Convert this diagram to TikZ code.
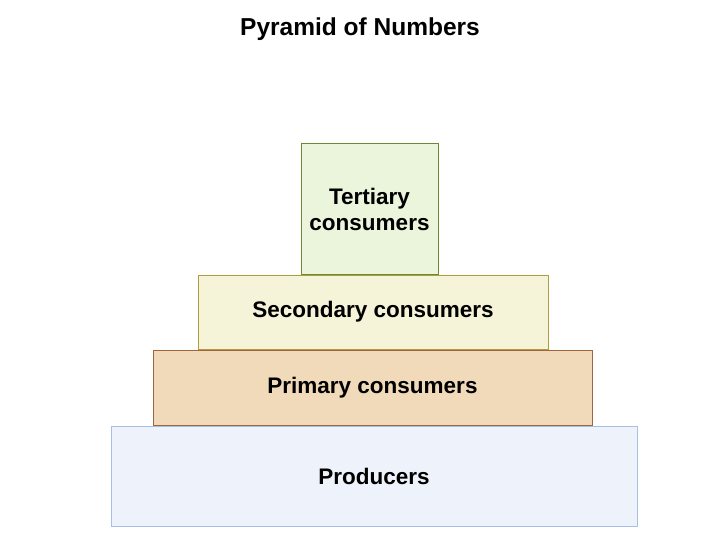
\documentclass[tikz,border=0pt]{standalone}
\usepackage{fontspec}
\setmainfont{Liberation Sans}
\usetikzlibrary{positioning}
\definecolor{cterfill}{RGB}{235,245,219}
\definecolor{cterline}{RGB}{108,138,50}
\definecolor{csecfill}{RGB}{246,244,216}
\definecolor{csecline}{RGB}{176,156,62}
\definecolor{cprifill}{RGB}{240,218,186}
\definecolor{cpriline}{RGB}{160,100,62}
\definecolor{cprofill}{RGB}{238,243,251}
\definecolor{cproline}{RGB}{168,190,230}
\begin{document}
\begin{tikzpicture}[
    x=1pt, y=1pt,
    level/.style n args={2}{
      rectangle, draw=#1, line width=1pt, fill=#2,
      inner sep=0pt, outer sep=0pt, text centered, align=center,
      font=\fontsize{22.5}{26}\selectfont\bfseries
    }
  ]
  \useasboundingbox (0,0) rectangle (720,542);

  % ---- Title ----
  \node[font=\fontsize{24.5}{28}\selectfont\bfseries] (title) at (360,513) {Pyramid of Numbers};

  % ---- Pyramid levels (bottom to top) ----
  \node[level={cproline}{cprofill}, minimum width=526pt, minimum height=100pt]
    (prod) at (374,66) {Producers};
  \node[level={cpriline}{cprifill}, minimum width=439pt, minimum height=75pt,
        above=1pt of prod, xshift=-1.5pt] (prim) {Primary consumers};
  \node[level={csecline}{csecfill}, minimum width=350pt, minimum height=74pt,
        above=1pt of prim, xshift=0.5pt] (sec) {Secondary consumers};
  \node[level={cterline}{cterfill}, minimum width=137pt, minimum height=130pt,
        above=1pt of sec, xshift=-3.5pt] (tert) {Tertiary\\consumers};

\end{tikzpicture}
\end{document}
